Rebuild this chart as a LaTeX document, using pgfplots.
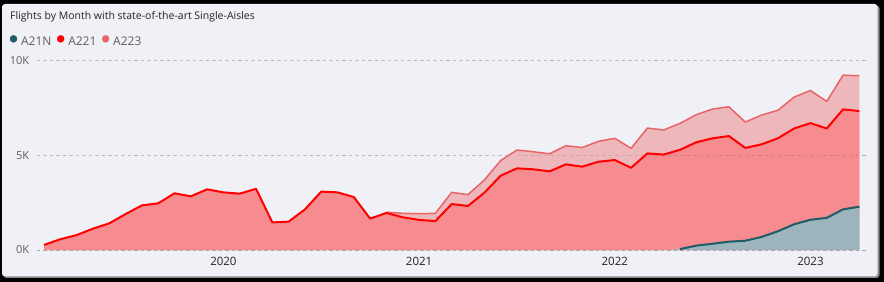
\documentclass[border=0pt]{standalone}
\usepackage{pgfplots}
\pgfplotsset{compat=1.18}
\usepackage{pgfplotstable}
\usepackage{fontspec}
\setmainfont{Open Sans}
\definecolor{bg}{HTML}{F0F1F6}
\definecolor{shadow}{HTML}{8A8A8A}
\definecolor{cTeal}{HTML}{1E5C68}
\definecolor{cRed}{HTML}{FF0000}
\definecolor{cLR}{HTML}{E96466}
\definecolor{fTeal}{HTML}{9CB5BD}
\definecolor{fRed}{HTML}{F68C8F}
\definecolor{fLR}{HTML}{EDB7BB}
\definecolor{titlec}{HTML}{252423}
\definecolor{labc}{HTML}{605E5C}
\definecolor{gridc}{HTML}{BDBDBD}

\pgfplotstableread{
m teal red top
-11 0 270 270
-10 0 570 570
-9 0 790 790
-8 0 1130 1130
-7 0 1410 1410
-6 0 1900 1900
-5 0 2360 2360
-4 0 2470 2470
-3 0 3000 3000
-2 0 2840 2840
-1 0 3210 3210
0 0 3050 3050
1 0 2980 2980
2 0 3240 3240
3 0 1460 1460
4 0 1500 1500
5 0 2150 2150
6 0 3090 3090
7 0 3050 3050
8 0 2800 2800
9 0 1660 1660
10 0 1960 2000
11 0 1730 1940
12 0 1590 1920
13 0 1530 1940
14 0 2430 3050
15 0 2330 2930
16 0 3030 3700
17 0 3930 4730
18 0 4320 5290
19 0 4270 5200
20 0 4160 5090
21 0 4530 5520
22 0 4410 5420
23 0 4670 5750
24 0 4760 5910
25 0 4350 5380
26 0 5110 6450
27 0 5050 6350
28 50 5300 6700
29 230 5700 7160
30 330 5910 7460
31 440 6030 7580
32 490 5400 6770
33 690 5590 7140
34 990 5910 7390
35 1360 6430 8090
36 1600 6710 8440
37 1700 6430 7860
38 2150 7440 9250
39 2290 7350 9220
}\data

\begin{document}
\begin{tikzpicture}
\fill[black] (0,0) rectangle (884bp,282bp);
\fill[shadow, rounded corners=3bp] (3.5bp,4bp) rectangle (879.5bp,276.5bp);
\fill[bg, rounded corners=3bp] (2bp,5.5bp) rectangle (877.5bp,278bp);
\node[anchor=base west, inner sep=0pt, text=titlec, font=\fontsize{10.5bp}{12bp}\selectfont] at (10bp,262.7bp) {Flights by Month with state-of-the-art Single-Aisles};
\begin{axis}[
  at={(36.7bp,32bp)}, anchor=south west, scale only axis,
  width=830bp, height=189bp,
  xmin=-11.45, xmax=39.45, ymin=0, ymax=10000,
  scaled y ticks=false,
  axis line style={draw=none}, tick style={draw=none},
  ytick={0,5000,10000}, yticklabels={0K,5K,10K},
  xtick={0,12,24,36}, xticklabels={2020,2021,2022,2023},
  ymajorgrids, grid style={color=gridc, line width=1bp, dash pattern=on 3.5bp off 3bp},
  yticklabel style={anchor=east, inner sep=0pt, xshift=-7.4bp, text=labc, font=\fontsize{11bp}{13bp}\selectfont},
  xticklabel style={anchor=north, inner sep=0pt, yshift=-6.5bp, text=titlec, font=\fontsize{11.5bp}{13bp}\selectfont},
  legend columns=3,
  legend style={at={(rel axis cs:-0.0324,1.105)}, anchor=west, draw=none, fill=none, inner sep=0pt, outer sep=0pt,
    nodes={inner sep=0pt, text=labc, font=\fontsize{12bp}{14bp}\selectfont},
    /tikz/every odd column/.append style={column sep=3.9bp},
    /tikz/every even column/.append style={column sep=5.5bp}},
  legend image code/.code={\fill (3.5bp,3.2bp) circle (3.5bp);},
]
\addlegendimage{color=cTeal}
\addlegendentry{A21N}
\addlegendimage{color=cRed}
\addlegendentry{A221}
\addlegendimage{color=cLR}
\addlegendentry{A223}

% areas (stacked look: each fill drawn from zero, upper series first)
\addplot[fill=fLR, draw=none, forget plot] table[x=m, y=top]{\data} \closedcycle;
\addplot[fill=fRed, draw=none, forget plot] table[x=m, y=red]{\data} \closedcycle;
\addplot[fill=fTeal, draw=none, forget plot] table[x=m, y=teal]{\data} \closedcycle;

% grid seen through the translucent areas
\addplot[forget plot, draw=black, opacity=0.1, line width=1bp, dash pattern=on 3.5bp off 3bp] coordinates {(18.05,5000) (39.45,5000)};
\addplot[forget plot, draw=black, opacity=0.1, line width=1bp, dash pattern=on 3.5bp off 3bp] coordinates {(-11.45,0) (39.45,0)};

\addplot[cLR, line width=1.5bp, line join=round, restrict x to domain=10:39, forget plot] table[x=m, y=top]{\data};
\addplot[cRed, line width=2bp, line join=round, forget plot] table[x=m, y=red]{\data};
\addplot[cTeal, line width=2bp, line join=round, restrict x to domain=28:39, forget plot] table[x=m, y=teal]{\data};
\end{axis}
\end{tikzpicture}
\end{document}
